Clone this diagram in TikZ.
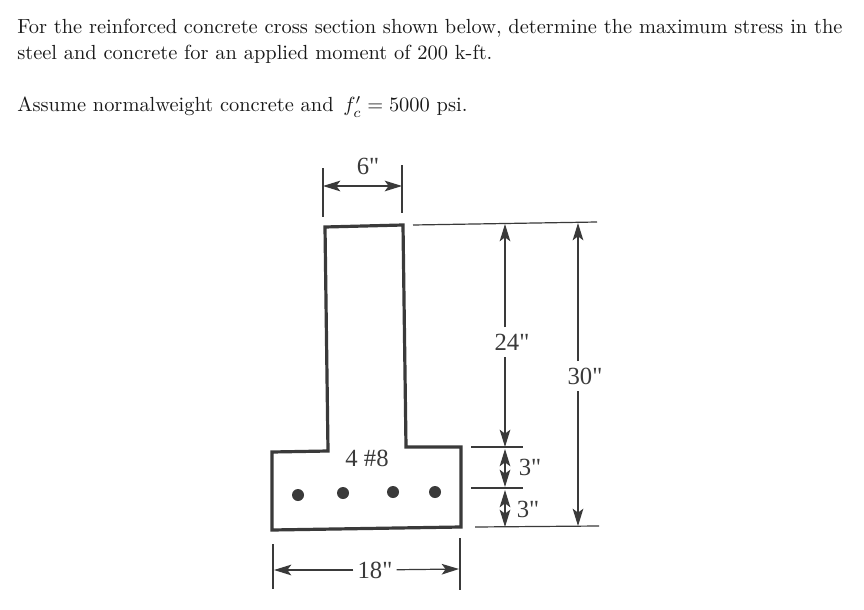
\documentclass[tikz,border=0pt]{standalone}
\usepackage{fontspec}
\newfontfamily\figfont{Liberation Serif}
\usetikzlibrary{arrows.meta}
\definecolor{ink}{HTML}{3A3A3A}
\newcommand{\paratext}[1]{\scalebox{1.532}{\fontsize{10}{12}\selectfont #1}}
\tikzset{
  para/.style={anchor=base west,inner sep=0pt,text=black!90},
  dimlabel/.style={font=\figfont\fontsize{18.5}{20}\selectfont,text=ink,inner sep=2pt},
  section/.style={draw=ink,line width=2.4pt,line join=miter},
  bar/.style={fill=ink,circle,inner sep=0pt,minimum size=9pt},
  extline/.style={draw=ink,line width=0.9pt},
  dimline/.style={draw=ink,line width=0.9pt,-{Stealth[length=13pt,width=8pt,inset=3pt]},shorten >=0pt},
}
\begin{document}
\begin{tikzpicture}[x=0.75pt,y=-0.75pt]
\useasboundingbox (0,0) rectangle (864,610);
\fill[white] (0,0) rectangle (864,610);
% statement
\node[para] (t1) at (17,34) {\paratext{For the reinforced concrete cross section shown below, determine the maximum stress in the}};
\node[para] (t2) at (17,60) {\paratext{steel and concrete for an applied moment of 200 k-ft.}};
\node[para] (t3) at (17,112) {\paratext{Assume normalweight concrete and\hspace{1.5pt} $f'_c = 5000$ psi.}};
% section
\draw[section] (325,227) -- (403,225) -- (406,447) -- (461,447) -- (461,527) -- (272,530) -- (272,452) -- (328,451) -- cycle;
\node[bar] (b1) at (298,495) {};
\node[bar] (b2) at (343,493) {};
\node[bar] (b3) at (393,492) {};
\node[bar] (b4) at (435,492) {};
\node[dimlabel] (bars) at (367,458) {4 \#8};
% 6 in
\coordinate (a1) at (323,168); \coordinate (a2) at (323,217);
\coordinate (a3) at (402,165); \coordinate (a4) at (402,213);
\coordinate (a5) at (323,186); \coordinate (a6) at (402,186);
\draw[extline] (a1) -- (a2);
\draw[extline] (a3) -- (a4);
\draw[dimline,{Stealth[length=13pt,width=8pt,inset=3pt]}-{Stealth[length=13pt,width=8pt,inset=3pt]}] (a5) -- (a6);
\node[dimlabel] (l6) at (368,166) {6"};
% 18 in
\coordinate (c1) at (273,544); \coordinate (c2) at (273,589);
\coordinate (c3) at (460,538); \coordinate (c4) at (460,590);
\coordinate (c5) at (274,570); \coordinate (c6) at (459,569);
\draw[extline] (c1) -- (c2);
\draw[extline] (c3) -- (c4);
\node[dimlabel,inner sep=3pt] (l18) at (375,570) {18"};
\draw[dimline] (l18) -- (c5);
\draw[dimline] (l18) -- (c6);
% right extension lines
\coordinate (e1) at (413,225); \coordinate (e2) at (597,222);
\coordinate (e3) at (471,447); \coordinate (e4) at (523,447);
\coordinate (e5) at (471,488); \coordinate (e6) at (523,488);
\coordinate (e7) at (475,527); \coordinate (e8) at (599,526);
\draw[extline] (e1) -- (e2);
\draw[extline] (e3) -- (e4);
\draw[extline] (e5) -- (e6);
\draw[extline] (e7) -- (e8);
% 24 in
\coordinate (d1) at (505,224); \coordinate (d2) at (505,447);
\node[dimlabel] (l24) at (512,342) {24"};
\draw[dimline] (505,327) -- (d1);
\draw[dimline] (505,357) -- (d2);
% 30 in
\coordinate (f1) at (578,223); \coordinate (f2) at (578,526);
\node[dimlabel] (l30) at (585,376) {30"};
\draw[dimline] (578,361) -- (f1);
\draw[dimline] (578,391) -- (f2);
% 3 in
\coordinate (g1) at (505,449); \coordinate (g2) at (505,487);
\coordinate (g3) at (505,490); \coordinate (g4) at (505,527);
\coordinate (g5) at (505,468); \coordinate (g6) at (505,508);
\draw[dimline] (g5) -- (g1);
\draw[dimline] (g5) -- (g2);
\draw[dimline] (g6) -- (g3);
\draw[dimline] (g6) -- (g4);
\node[dimlabel] (l3a) at (530,467) {3"};
\node[dimlabel] (l3b) at (528,509) {3"};
\end{tikzpicture}
\end{document}
